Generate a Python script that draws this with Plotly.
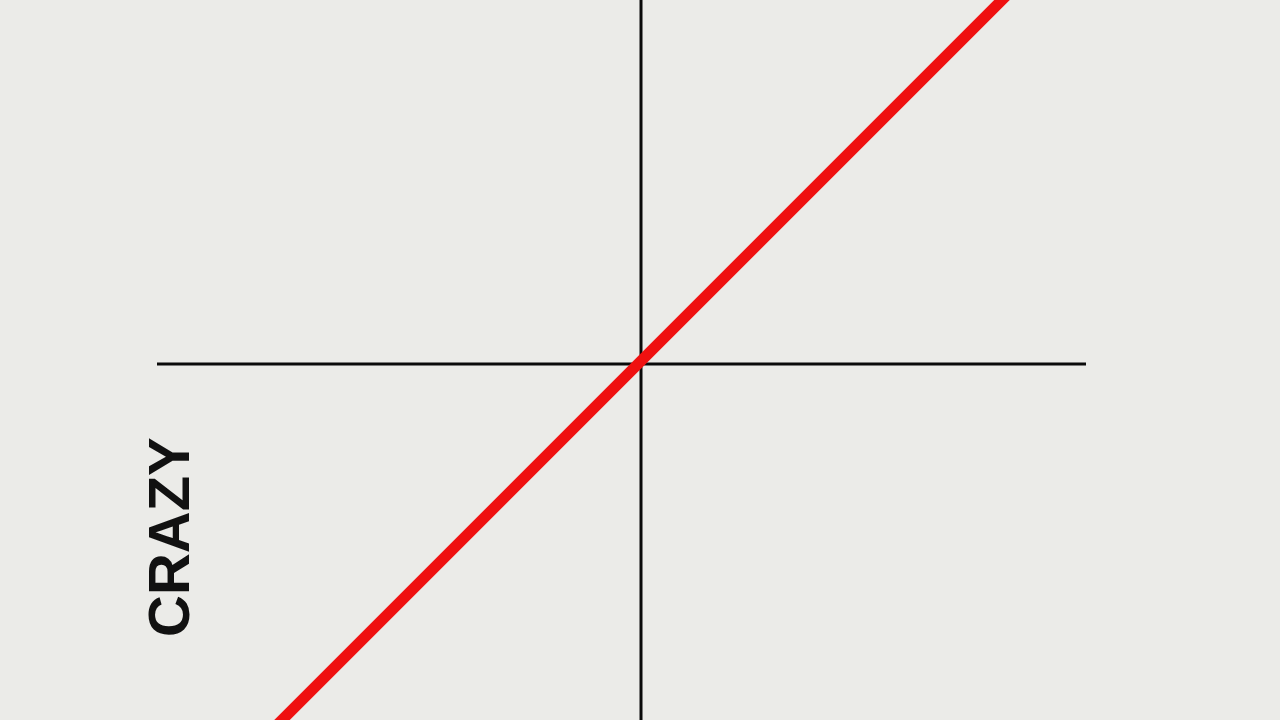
import plotly.graph_objects as go

# Data (units: axes cross at origin)
hot_axis_x = [-4.84, 4.45]
hot_axis_y = [0.0, 0.0]
crazy_axis_x = [0.0, 0.0]
crazy_axis_y = [-4.0, 4.0]
line_x = [-4.10, 4.10]
line_y = [-4.07, 4.13]
label_text = "CRAZY"
label_pos = (-4.73, -1.73)

BG = "#ebebe8"

fig = go.Figure()
fig.add_trace(go.Scatter(x=hot_axis_x, y=hot_axis_y, mode="lines",
                         line=dict(color="#0a0a0a", width=3), hoverinfo="skip"))
fig.add_trace(go.Scatter(x=crazy_axis_x, y=crazy_axis_y, mode="lines",
                         line=dict(color="#0a0a0a", width=3), hoverinfo="skip"))
fig.add_trace(go.Scatter(x=line_x, y=line_y, mode="lines",
                         line=dict(color="#ef1010", width=11), hoverinfo="skip"))

fig.add_annotation(x=label_pos[0], y=label_pos[1], text="<b>" + label_text + "</b>",
                   textangle=-90, showarrow=False,
                   font=dict(family="Liberation Sans, Arial, sans-serif",
                             size=58, color="#111111"),
                   xanchor="center", yanchor="middle")

fig.update_layout(
    width=1280, height=720,
    margin=dict(l=0, r=0, t=0, b=0),
    paper_bgcolor=BG, plot_bgcolor=BG,
    showlegend=False,
    xaxis=dict(range=[-6.41, 6.39], visible=False, fixedrange=True),
    yaxis=dict(range=[-3.56, 3.64], visible=False, fixedrange=True),
)

fig.write_html("out.html", config={"displayModeBar": False},
               post_script="document.body.style.margin='0';")
